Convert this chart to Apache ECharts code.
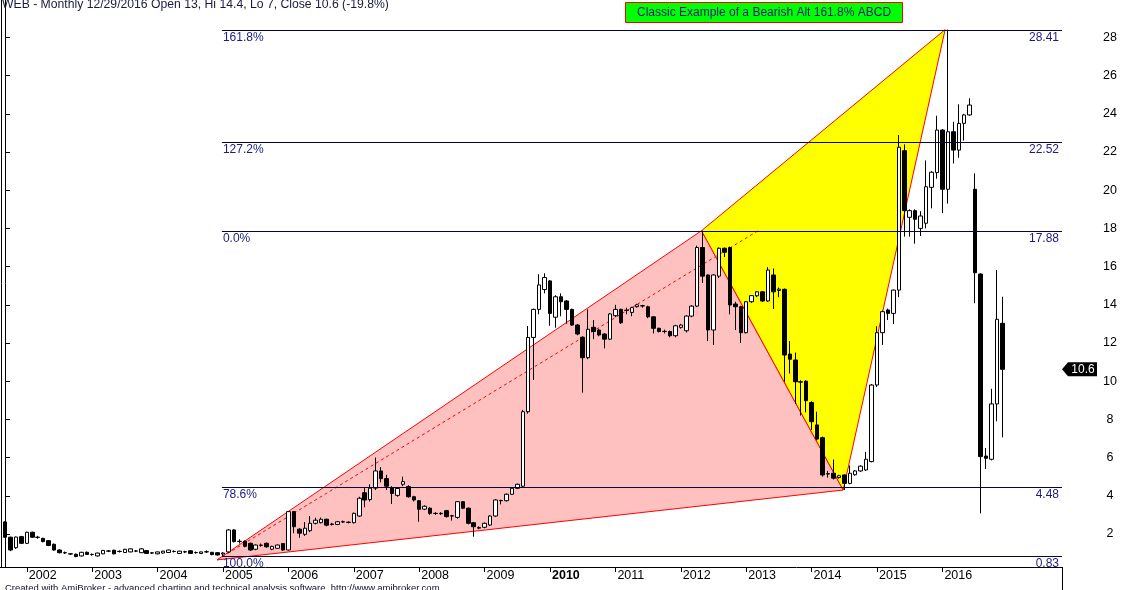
<!DOCTYPE html>
<html>
<head>
<meta charset="utf-8">
<script src="https://cdn.jsdelivr.net/npm/echarts@6/dist/echarts.min.js"></script>
<style>
  html, body { margin: 0; padding: 0; background: #fff; }
  #chart { width: 1122px; height: 590px; }
</style>
</head>
<body>
<div id="chart"></div>
<script>
// monthly bars, each [open, close, low, high]
const startYear = 2001, startMonth = 9;
const bars2001 = [[2.63,1.83,1.80,2.66],[1.83,1.16,1.10,1.86],[1.28,1.84,1.22,1.86],[1.86,1.51,1.48,1.90]];
const bars2002 = [[1.51,2.09,1.48,2.12],[2.09,1.83,1.80,2.12],[1.83,1.82,1.75,1.90],[1.77,1.60,1.56,1.80],
  [1.65,1.40,1.36,1.68],[1.46,1.16,1.12,1.50],[1.16,1.02,0.98,1.20],[1.02,1.01,0.95,1.08],
  [0.96,0.95,0.90,1.00],[0.94,0.82,0.78,0.97],[0.85,1.04,0.82,1.06],[1.04,0.93,0.90,1.08]];
const bars2003 = [[0.93,0.92,0.86,0.98],[0.85,1.00,0.82,1.02],[0.96,1.14,0.94,1.16],[1.10,1.11,1.05,1.16],
  [1.15,0.96,0.93,1.17],[1.08,1.09,1.03,1.14],[1.03,1.20,1.00,1.22],[1.06,1.22,1.04,1.25],
  [1.10,1.11,1.05,1.15],[1.02,1.22,1.00,1.26],[1.13,0.98,0.95,1.16],[1.01,1.00,0.95,1.05]];
const bars2004 = [[0.96,1.06,0.93,1.08],[1.00,1.10,0.97,1.12],[1.03,1.16,1.00,1.18],[1.08,1.09,1.03,1.14],
  [0.98,1.10,0.95,1.12],[1.06,1.07,1.00,1.12],[1.12,0.98,0.95,1.14],[1.02,1.03,0.97,1.08],
  [0.98,1.06,0.95,1.08],[1.06,1.07,1.00,1.14],[1.04,0.92,0.88,1.06],[1.02,0.90,0.86,1.05]];
const bars2005 = [[0.95,1.00,0.85,1.05],[1.06,2.21,1.00,2.25],[2.21,1.60,1.55,2.25],[1.60,1.62,1.50,1.72],
  [1.62,1.35,1.30,1.66],[1.51,1.16,1.12,1.55],[1.20,1.42,1.15,1.45],[1.40,1.42,1.33,1.50],
  [1.51,1.33,1.28,1.55],[1.20,1.35,1.15,1.38],[1.25,1.42,1.22,1.45],[1.50,1.16,1.12,1.52]];
const bars2006 = [[1.16,3.17,1.13,3.20],[3.17,2.38,2.04,3.20],[2.25,2.04,1.80,2.30],[1.98,2.30,1.90,2.62],
  [2.17,2.56,2.10,2.94],[2.56,2.72,2.50,2.85],[2.59,2.77,2.55,2.86],[2.77,2.46,2.40,2.80],
  [2.52,2.50,2.44,2.58],[2.50,2.64,2.46,2.68],[2.64,2.63,2.58,2.70],[2.60,2.62,2.55,2.66]];
const bars2007 = [[2.59,3.08,2.55,3.12],[2.94,3.87,2.90,3.95],[4.16,3.78,3.40,4.40],[3.80,4.40,3.70,4.60],
  [4.40,5.30,4.30,6.00],[5.30,4.90,4.70,5.50],[4.90,4.50,4.30,5.10],[4.43,4.12,3.57,4.50],
  [4.02,4.38,3.95,4.45],[4.60,4.74,4.50,5.00],[4.48,3.95,3.90,4.55],[3.95,3.78,3.70,4.00]];
const bars2008 = [[3.74,3.29,2.64,3.78],[3.30,3.45,3.25,3.50],[3.35,3.08,3.00,3.40],[3.08,3.07,3.00,3.14],
  [3.08,3.06,3.00,3.14],[3.22,2.91,2.86,3.26],[2.95,2.94,2.70,3.00],[2.87,3.69,2.80,3.72],
  [3.69,3.35,3.30,3.72],[3.35,2.56,2.50,3.38],[2.59,2.38,1.86,2.62],[2.30,2.34,2.25,2.40]];
const bars2009 = [[2.35,2.56,2.30,2.60],[2.47,2.94,2.42,2.98],[2.94,3.78,2.90,3.82],[3.75,3.74,3.55,3.80],
  [3.74,4.08,3.70,4.12],[4.08,4.39,4.05,4.42],[4.39,4.60,4.35,4.64],[4.50,8.40,4.45,8.50],
  [8.40,12.29,8.30,12.89],[12.29,13.76,10.06,13.80],[13.76,15.04,13.50,15.60],[14.80,15.43,14.60,15.65]];
const bars2010 = [[15.25,13.55,12.90,15.30],[13.35,14.42,12.80,14.50],[14.42,14.16,13.40,14.60],[14.20,13.76,13.00,14.25],
  [13.76,12.94,12.90,13.80],[12.94,12.47,12.40,13.00],[12.30,11.23,9.40,12.35],[11.23,12.72,11.15,13.76],
  [12.82,12.60,12.20,13.20],[12.68,12.42,12.35,12.75],[12.47,12.20,11.72,12.50],[12.20,13.52,12.15,13.56]];
const bars2011 = [[13.43,13.76,13.35,14.00],[13.76,13.06,13.00,13.80],[13.70,13.72,13.50,13.85],[13.60,13.85,13.40,13.90],
  [13.90,14.00,13.85,14.05],[13.95,13.94,13.85,14.00],[13.90,13.37,13.30,13.95],[13.37,12.77,12.50,13.40],
  [12.77,12.60,12.55,12.80],[12.60,12.61,12.50,12.70],[12.60,12.38,12.30,12.65],[12.38,12.90,12.30,12.95]];
const bars2012 = [[12.82,12.94,12.75,13.00],[12.64,13.41,12.55,13.45],[13.41,13.93,13.35,13.98],[13.93,17.00,13.88,17.10],
  [17.00,15.50,15.14,17.88],[15.56,12.68,12.10,15.60],[12.68,15.56,11.90,15.60],[15.50,16.96,15.40,17.00],
  [16.96,16.75,16.50,17.00],[17.00,13.99,13.50,17.05],[14.04,13.90,12.68,14.16],[13.90,12.54,12.00,13.95]];
const bars2013 = [[12.54,14.16,12.50,14.20],[14.16,14.48,14.10,14.50],[14.47,14.68,14.40,14.72],[14.68,14.20,14.15,14.72],
  [14.20,15.82,14.15,15.97],[15.56,14.68,13.78,15.90],[14.75,14.82,14.40,14.90],[14.81,11.37,9.97,14.85],
  [11.42,11.15,10.40,12.10],[11.11,9.97,8.80,11.50],[9.97,9.95,8.20,10.05],[10.00,8.98,8.37,10.05]];
const bars2014 = [[8.88,7.88,7.45,8.95],[7.71,6.97,6.90,8.40],[7.04,5.09,5.00,7.10],[5.15,5.14,4.95,5.30],
  [5.18,4.92,4.85,5.90],[4.95,5.05,4.90,5.10],[5.09,4.65,4.30,5.12],[4.65,5.18,4.60,5.58],
  [5.10,5.30,5.05,5.35],[5.30,5.55,5.25,5.60],[5.35,5.91,5.30,6.30],[5.79,9.80,5.75,9.85]];
const bars2015 = [[9.80,12.54,9.70,12.88],[12.54,13.64,11.90,13.70],[13.73,13.55,13.20,13.80],[13.55,14.77,13.00,14.80],
  [14.77,22.25,14.40,22.89],[22.07,18.93,17.57,22.40],[18.58,18.93,17.57,19.00],[18.93,18.48,17.20,19.00],
  [18.00,18.65,17.60,18.90],[18.27,20.18,18.00,21.56],[20.15,20.94,19.05,21.00],[20.92,23.15,20.60,23.90]];
const bars2016 = [[23.15,20.05,18.80,23.20],[20.05,23.06,19.30,28.41],[23.06,22.10,21.40,23.58],[22.10,23.50,21.70,24.50],
  [23.50,23.94,22.60,24.00],[23.94,24.46,23.90,24.81],[20.05,15.68,14.08,20.88],[15.61,6.05,3.08,15.65],
  [6.08,5.96,5.40,6.50],[5.91,8.81,5.85,9.60],[8.81,13.24,7.90,15.82],[13.03,10.62,7.06,14.42]];

// empty months kept at the right edge
const blankMonths = 10;

// pattern points X, A, B, C (bar index, price) and the dashed X line end
const patternIdx = [38.9, 127.8, 153.8, 172.5];
const patternVal = [0.64, 17.88, 4.30, 28.41];
const dashEnd = [138.2, 17.88];

// fibonacci levels
const levelNames = ['161.8%', '127.2%', '0.0%', '78.6%', '100.0%'];
const levelValues = [28.41, 22.52, 17.88, 4.48, 0.83];
const levelStartIdx = 39.8;

const yTicks = [2, 4, 6, 8, 10, 12, 14, 16, 18, 20, 22, 24, 26, 28];

const FONT = "'Liberation Sans', Arial, sans-serif";
const NAVY = '#1c1c80';
const LINE = '#06063c';

const bars = [].concat(bars2001, bars2002, bars2003, bars2004, bars2005, bars2006, bars2007, bars2008,
  bars2009, bars2010, bars2011, bars2012, bars2013, bars2014, bars2015, bars2016);

const months = [];
for (let i = 0; i < bars.length + blankMonths; i++) {
  const m = startMonth - 1 + i;
  const y = startYear + Math.floor(m / 12);
  months.push(y + '-' + String(m % 12 + 1).padStart(2, '0'));
}
const isJan = (i, v) => i < bars.length && v.endsWith('-01');

const slot = 5.45;
const gridLeft = 2.275;
const gridRight = 1122 - (gridLeft + slot * months.length);
const axisX = 1062;
const axisOffset = axisX - (1122 - gridRight);

const chart = echarts.init(document.getElementById('chart'));
const lastClose = bars[bars.length - 1][1];

const option = {
  animation: false,
  backgroundColor: '#fff',
  textStyle: { fontFamily: FONT },
  title: [
    { text: 'WEB - Monthly 12/29/2016 Open 13, Hi 14.4, Lo 7, Close 10.6 (-19.8%)',
      left: 2, top: -1, padding: 0,
      textStyle: { fontSize: 12.2, fontWeight: 'normal', color: '#1a1a40', fontFamily: FONT } },
    { text: 'Classic Example of a Bearish Alt 161.8% ABCD',
      left: 625, top: 2, padding: [4, 12, 3, 12],
      backgroundColor: '#00ff00', borderColor: '#ff0000', borderWidth: 1,
      textStyle: { fontSize: 12, lineHeight: 14, fontWeight: 'normal', color: NAVY, fontFamily: FONT } },
    { text: 'Created with AmiBroker - advanced charting and technical analysis software. http://www.amibroker.com',
      left: 5, top: 583, padding: 0,
      textStyle: { fontSize: 9.5, fontWeight: 'normal', color: '#101030', fontFamily: FONT } }
  ],
  grid: { left: gridLeft, right: gridRight, top: 0, bottom: 23 },
  xAxis: [
    { type: 'category', data: months, boundaryGap: true,
      axisLine: { show: false },
      axisTick: { show: true, alignWithLabel: true, interval: isJan, length: 5, lineStyle: { color: '#000' } },
      axisLabel: { interval: isJan, align: 'left', margin: 2, padding: [0, 0, 0, 2],
        fontSize: 12.5, color: '#000', fontFamily: FONT,
        formatter: v => v.slice(0, 4) === '2010' ? '{b|2010}' : v.slice(0, 4),
        rich: { b: { fontWeight: 'bold', fontSize: 12.5, color: '#000', fontFamily: FONT } } },
      splitLine: { show: false } },
    { type: 'value', min: -0.5, max: months.length - 0.5, show: false }
  ],
  yAxis: [
    { type: 'value', position: 'right', offset: axisOffset, min: 0.27, max: 29.96, scale: true,
      axisLine: { show: true, lineStyle: { color: '#000' } },
      axisTick: { show: true, length: 5, customValues: yTicks, lineStyle: { color: '#000' } },
      axisLabel: { customValues: yTicks, align: 'center', margin: 48, fontSize: 12.5, color: '#000', fontFamily: FONT },
      splitLine: { show: false } }
  ],
  graphic: [
    { type: 'line', shape: { x1: 0, y1: 567.5, x2: axisX, y2: 567.5 }, style: { stroke: '#000', lineWidth: 1 }, z: 10 },
    { type: 'line', shape: { x1: 1.5, y1: 0, x2: 1.5, y2: 567 }, style: { stroke: '#000', lineWidth: 1 }, z: 10 },
    { type: 'line', shape: { x1: axisX + 0.5, y1: 567, x2: axisX + 0.5, y2: 590 }, style: { stroke: '#000', lineWidth: 1 }, z: 10 }
  ],
  series: [
    { // XAB (pink) and ABC (yellow) triangles
      type: 'custom', xAxisIndex: 1, yAxisIndex: 0, z: 1, silent: true, clip: false,
      data: [[0, 1]],
      renderItem: (params, api) => {
        const p = patternIdx.map((x, i) => api.coord([x, patternVal[i]]));
        const d = api.coord(dashEnd);
        return { type: 'group', children: [
          { type: 'polygon', shape: { points: [p[0], p[1], p[2]] }, style: { fill: '#ffc0c0', stroke: '#ff0000', lineWidth: 1 } },
          { type: 'polygon', shape: { points: [p[1], p[2], p[3]] }, style: { fill: '#ffff00', stroke: '#ff0000', lineWidth: 1 } },
          { type: 'line', shape: { x1: p[0][0], y1: p[0][1], x2: d[0], y2: d[1] }, style: { stroke: '#ff0000', lineWidth: 1, lineDash: [3, 3] } }
        ] };
      }
    },
    {
      type: 'candlestick', xAxisIndex: 0, yAxisIndex: 0, z: 2, barWidth: 4,
      data: bars,
      itemStyle: { color: '#ffffff', color0: '#000000', borderColor: '#000000', borderColor0: '#000000', borderColorDoji: '#000000', borderWidth: 1 },
      emphasis: { disabled: true }, silent: true
    },
    { // fibonacci levels, their labels, and the last price tag
      type: 'custom', xAxisIndex: 1, yAxisIndex: 0, z: 3, silent: true, clip: false,
      data: [[0, 1]],
      renderItem: (params, api) => {
        const cs = params.coordSys;
        const right = cs.x + cs.width + axisOffset;
        const children = [];
        levelValues.forEach((v, i) => {
          const s = api.coord([levelStartIdx, v]);
          const y = Math.round(s[1]) + 0.5;
          children.push({ type: 'line', shape: { x1: s[0], y1: y, x2: right, y2: y }, style: { stroke: LINE, lineWidth: 1 } });
          children.push({ type: 'text', x: s[0] + 1, y: y + 1, style: { text: levelNames[i], fill: NAVY, font: '12px ' + FONT, textAlign: 'left', textVerticalAlign: 'top' } });
          children.push({ type: 'text', x: right - 3, y: y + 1, style: { text: v.toFixed(2), fill: NAVY, font: '12px ' + FONT, textAlign: 'right', textVerticalAlign: 'top' } });
        });
        const ty = api.coord([0, lastClose])[1];
        children.push({ type: 'polygon', shape: { points: [[right, ty], [right + 6, ty - 7], [right + 35, ty - 7], [right + 35, ty + 7], [right + 6, ty + 7]] }, style: { fill: '#000' } });
        children.push({ type: 'text', x: right + 21, y: ty, style: { text: lastClose.toFixed(1), fill: '#fff', font: '12px ' + FONT, textAlign: 'center', textVerticalAlign: 'middle' } });
        return { type: 'group', children: children };
      }
    }
  ]
};
chart.setOption(option);
</script>
</body>
</html>
